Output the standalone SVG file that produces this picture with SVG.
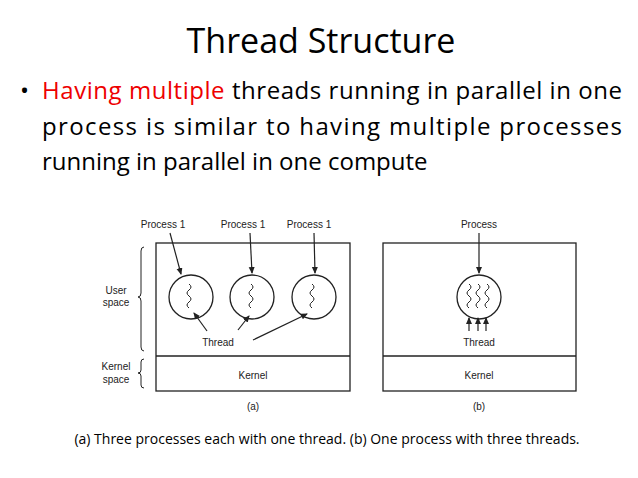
<svg xmlns="http://www.w3.org/2000/svg" width="638" height="478" viewBox="0 0 638 478">
<style>
.t{font-family:"Open Sans","Liberation Sans",sans-serif;fill:#000}
.d{font-family:"Liberation Sans",Arial,sans-serif;font-size:10px;fill:#222;text-anchor:middle}
.b{fill:none;stroke:#222;stroke-width:1.3}
.a{stroke:#222;stroke-width:1.2;fill:none;marker-end:url(#m)}
.w{fill:none;stroke:#222;stroke-width:1}
</style>
<defs><marker id="m" markerWidth="7" markerHeight="7" refX="6" refY="3" orient="auto" markerUnits="userSpaceOnUse"><path d="M0,0L7,3L0,6z" fill="#222"/></marker></defs>
<rect width="638" height="478" fill="#fff"/>
<text class="t" x="321" y="53" font-size="34" text-anchor="middle">Thread Structure</text>
<text class="t" x="20" y="99" font-size="24">•</text>
<text class="t" x="42" y="99" font-size="24" textLength="580" lengthAdjust="spacing"><tspan fill="#e00">Having multiple</tspan> threads running in parallel in one</text>
<text class="t" x="42" y="135" font-size="24" textLength="580" lengthAdjust="spacing">process is similar to having multiple processes</text>
<text class="t" x="42" y="170" font-size="24">running in parallel in one compute</text>
<g id="diagram-a">
<rect class="b" x="156" y="243" width="194" height="148"/>
<line class="b" x1="156" y1="356" x2="350" y2="356"/>
<circle class="b" cx="191" cy="297" r="22"/><circle class="b" cx="252" cy="297" r="22"/><circle class="b" cx="314" cy="297" r="22"/>
<path class="w" d="M189,284q4,3 0,6t0,6t0,6t0,6"/><path class="w" d="M251,284q4,3 0,6t0,6t0,6t0,6"/><path class="w" d="M312,284q4,3 0,6t0,6t0,6t0,6"/>
<text class="d" x="163" y="228">Process 1</text><text class="d" x="243" y="228">Process 1</text><text class="d" x="309" y="228">Process 1</text>
<text class="d" x="218" y="346">Thread</text><text class="d" x="253" y="379">Kernel</text><text class="d" x="253" y="410">(a)</text>
<text class="d" x="116" y="294">User</text><text class="d" x="116" y="306">space</text>
<text class="d" x="116" y="370">Kernel</text><text class="d" x="116" y="383">space</text>
<path class="w" d="M144,247q-3,0 -3,4v42q0,4 -3,4q3,0 3,4v46q0,4 3,4"/>
<path class="w" d="M144,359q-3,0 -3,3v8q0,3 -3,3q3,0 3,3v9q0,3 3,3"/>
</g>
<g id="diagram-b">
<rect class="b" x="383" y="243" width="193" height="148"/>
<line class="b" x1="383" y1="356" x2="576" y2="356"/>
<circle class="b" cx="479" cy="297" r="22"/>
<path class="w" d="M469,284q4,3 0,6t0,6t0,6t0,6"/><path class="w" d="M478,284q4,3 0,6t0,6t0,6t0,6"/><path class="w" d="M487,284q4,3 0,6t0,6t0,6t0,6"/>
<text class="d" x="479" y="228">Process</text><text class="d" x="479" y="346">Thread</text><text class="d" x="479" y="379">Kernel</text><text class="d" x="479" y="410">(b)</text>
</g>
<g id="connectors">
<line class="a" x1="170" y1="233" x2="181" y2="274"/>
<line class="a" x1="250" y1="233" x2="252" y2="273"/>
<line class="a" x1="314" y1="233" x2="315" y2="273"/>
<line class="a" x1="207" y1="331" x2="194" y2="313"/>
<line class="a" x1="238" y1="330" x2="249" y2="316"/>
<line class="a" x1="253" y1="340" x2="307" y2="314"/>
<line class="a" x1="479" y1="233" x2="479" y2="273"/>
<line class="a" x1="469" y1="331" x2="469" y2="318"/>
<line class="a" x1="478" y1="331" x2="478" y2="318"/>
<line class="a" x1="486" y1="331" x2="486" y2="318"/>
</g>
<text class="t" x="327" y="444" font-size="14" text-anchor="middle">(a) Three processes each with one thread. (b) One process with three threads.</text>
</svg>
